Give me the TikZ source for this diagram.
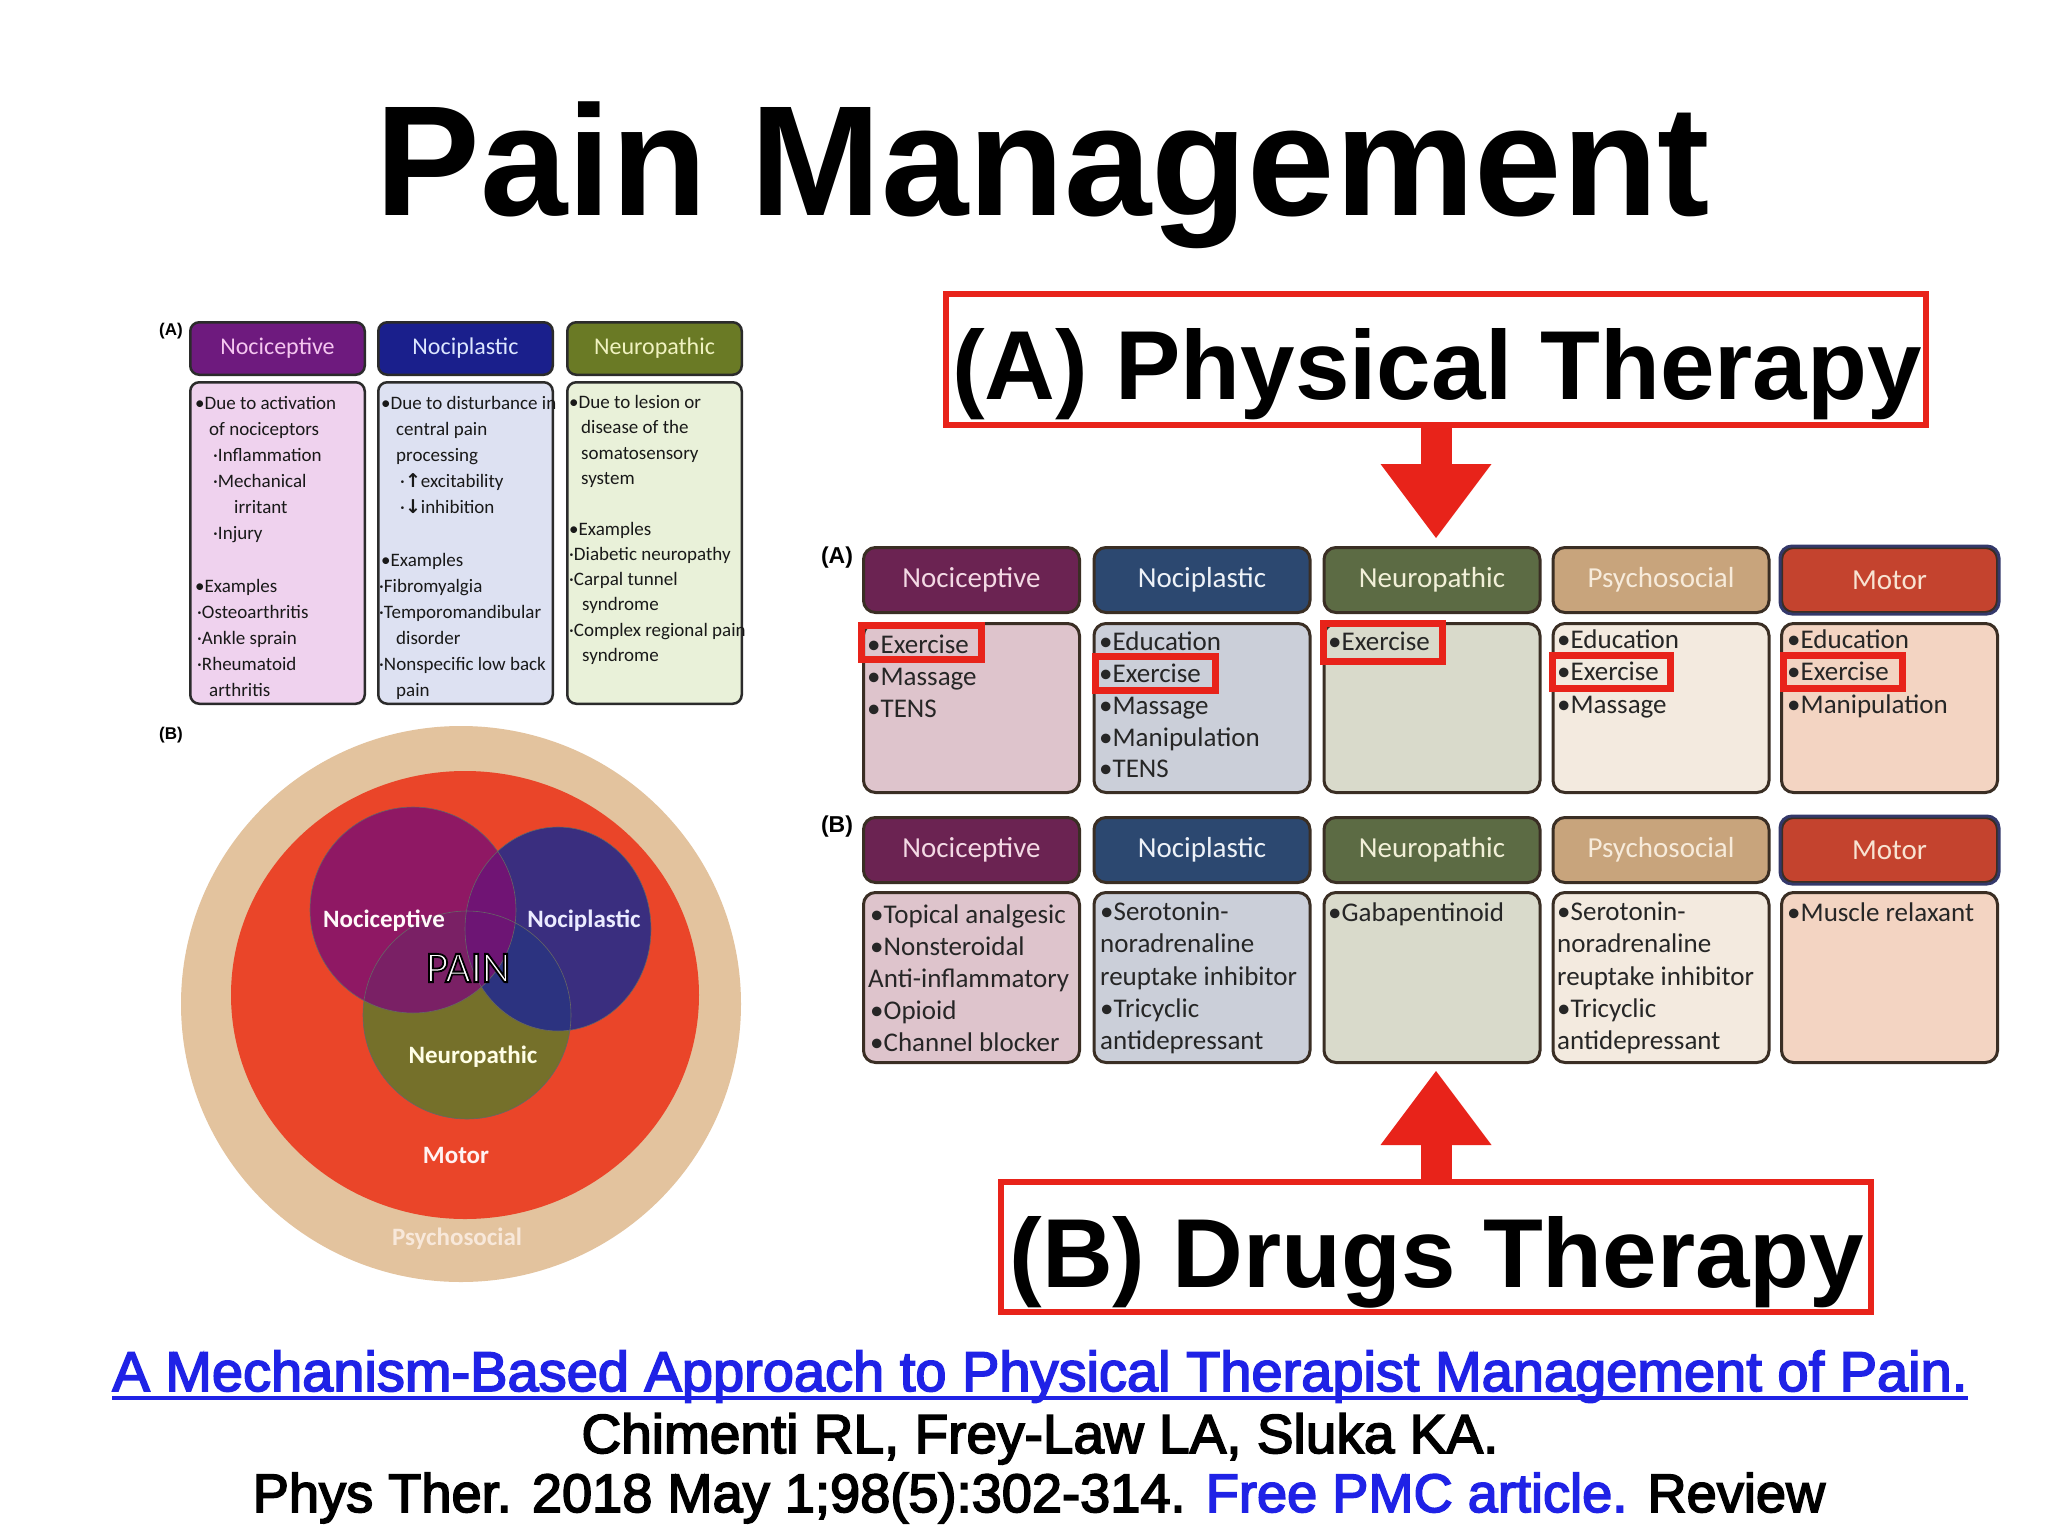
\documentclass[tikz,border=0pt]{standalone}
\usepackage{fontspec}
\setmainfont{Liberation Sans}
\newfontfamily\reff[FakeBold=3]{Liberation Sans}
\newfontfamily\figf{Carlito}
\newfontfamily\dvs{DejaVu Sans}
\usetikzlibrary{arrows.meta}
\definecolor{lh1}{HTML}{6E1A7E}\definecolor{lh2}{HTML}{1A1F8C}\definecolor{lh3}{HTML}{6A7A25}
\definecolor{lht1}{HTML}{F5C6F0}\definecolor{lht2}{HTML}{DCE6FF}\definecolor{lht3}{HTML}{F0F2C0}
\definecolor{lb1}{HTML}{EFD2EE}\definecolor{lb2}{HTML}{DDE1F2}\definecolor{lb3}{HTML}{E9F1D9}
\definecolor{lbord}{HTML}{2B2B2B}
\definecolor{rh1}{HTML}{6B2352}\definecolor{rh2}{HTML}{2C4870}\definecolor{rh3}{HTML}{5C6B44}\definecolor{rh4}{HTML}{C8A47C}\definecolor{rh5}{HTML}{C4432E}
\definecolor{rt1}{HTML}{F3D9E4}\definecolor{rt2}{HTML}{EEF2F8}\definecolor{rt3}{HTML}{F2F0D8}\definecolor{rt4}{HTML}{F7EBDB}\definecolor{rt5}{HTML}{F8E3D2}
\definecolor{rb1}{HTML}{DEC4CC}\definecolor{rb2}{HTML}{CBCFD9}\definecolor{rb3}{HTML}{D9DACB}\definecolor{rb4}{HTML}{F3EADF}\definecolor{rb5}{HTML}{F3D4C2}
\definecolor{rbord}{HTML}{3A2E24}\definecolor{mbord}{HTML}{33386A}
\definecolor{ctan}{HTML}{E3C39E}\definecolor{cred}{HTML}{EA4529}\definecolor{cpur}{HTML}{7C0F72}\definecolor{cblu}{HTML}{222B8C}\definecolor{coli}{HTML}{75702A}
\definecolor{hlred}{HTML}{E8231A}\definecolor{linkblue}{HTML}{1F22E6}\definecolor{psy}{HTML}{F8E8DA}
\begin{document}
\begin{tikzpicture}[x=1pt,y=-1pt,
 lhead/.style={draw=lbord, line width=2.5pt, rounded corners=9pt, minimum width=174.5pt, minimum height=52.5pt, inner sep=0pt, font=\figf\fontsize{24}{24}\selectfont},
 lbody/.style={draw=lbord, line width=2.5pt, rounded corners=9pt, minimum width=174.5pt, minimum height=321.5pt, inner sep=0pt},
 ltxt/.style={anchor=base west, inner sep=0pt, font=\figf\fontsize{19}{19}\selectfont, text=black!90},
 rhead/.style={draw=rbord, line width=3pt, rounded corners=12pt, minimum width=216pt, minimum height=65pt, inner sep=0pt, font=\figf\fontsize{29}{29}\selectfont},
 rbody/.style={draw=rbord, line width=3pt, rounded corners=12pt, minimum width=216pt, minimum height=169pt, inner sep=0pt},
 rtxt/.style={anchor=base west, inner sep=0pt, font=\figf\fontsize{27}{27}\selectfont, text=black!85},
 hl/.style={draw=hlred, line width=7.5pt},
 plab/.style={inner sep=0pt, font=\bfseries\fontsize{17}{17}\selectfont},
 rlab/.style={inner sep=0pt, font=\bfseries\fontsize{23}{23}\selectfont},
 clab/.style={inner sep=0pt, font=\figf\bfseries\fontsize{25}{25}\selectfont},
 bigbox/.style={draw=hlred, line width=6pt, inner sep=0pt},
 bigtxt/.style={anchor=base, inner sep=0pt, font=\bfseries\fontsize{98}{98}\selectfont},
 redarrow/.style={draw=hlred, line width=31pt, -{Triangle[width=111pt,length=74pt,line width=0pt]}},
 reftxt/.style={anchor=base, inner sep=0pt}
]
\useasboundingbox[fill=white] (0,0) rectangle (2048,1536);

% Title
\node[anchor=base, inner sep=0pt, font=\bfseries\fontsize{157}{157}\selectfont] (title) at (1043,215) {Pain Management};

% ---------- left panel (A)
\node[plab] (lA) at (171,331) {(A)};
\node[lhead, fill=lh1, text=lht1] (lh1) at (277.5,348.5) {Nociceptive};
\node[lhead, fill=lh2, text=lht2] (lh2) at (465.5,348.5) {Nociplastic};
\node[lhead, fill=lh3, text=lht3] (lh3) at (654.5,348.5) {Neuropathic};
\node[lbody, fill=lb1] (lb1) at (277.5,543) {};
\node[lbody, fill=lb2] (lb2) at (465.5,543) {};
\node[lbody, fill=lb3] (lb3) at (654.5,543) {};

\node[ltxt] (a1) at (195,409) {•Due to activation};
\node[ltxt] (a2) at (209,435) {of nociceptors};
\node[ltxt] (a3) at (213,461) {·Inflammation};
\node[ltxt] (a4) at (213,487) {·Mechanical};
\node[ltxt] (a5) at (234,513) {irritant};
\node[ltxt] (a6) at (213,539) {·Injury};
\node[ltxt] (a7) at (195,592) {•Examples};
\node[ltxt] (a8) at (197,618) {·Osteoarthritis};
\node[ltxt] (a9) at (197,644) {·Ankle sprain};
\node[ltxt] (a10) at (197,670) {·Rheumatoid};
\node[ltxt] (a11) at (209,696) {arthritis};

\node[ltxt] (b1) at (381,409) {•Due to disturbance in};
\node[ltxt] (b2) at (396,435) {central pain};
\node[ltxt] (b3) at (396,461) {processing};
\node[ltxt] (b4) at (400,487) {·{\dvs\bfseries ↑}excitability};
\node[ltxt] (b5) at (400,513) {·{\dvs\bfseries ↓}inhibition};
\node[ltxt] (b6) at (381,566) {•Examples};
\node[ltxt] (b7) at (379,592) {·Fibromyalgia};
\node[ltxt] (b8) at (379,618) {·Temporomandibular};
\node[ltxt] (b9) at (396,644) {disorder};
\node[ltxt] (b10) at (379,670) {·Nonspecific low back};
\node[ltxt] (b11) at (396,696) {pain};

\node[ltxt] (c1) at (569,408) {•Due to lesion or};
\node[ltxt] (c2) at (581,433) {disease of the};
\node[ltxt] (c3) at (581,459) {somatosensory};
\node[ltxt] (c4) at (581,484) {system};
\node[ltxt] (c5) at (569,535) {•Examples};
\node[ltxt] (c6) at (569,560) {·Diabetic neuropathy};
\node[ltxt] (c7) at (569,585) {·Carpal tunnel};
\node[ltxt] (c8) at (582,610) {syndrome};
\node[ltxt] (c9) at (569,636) {·Complex regional pain};
\node[ltxt] (c10) at (582,661) {syndrome};

% ---------- left panel (B)
\node[plab] (lB) at (171,735) {(B)};
\fill[ctan] (461,1004) ellipse[x radius=280, y radius=278];
\fill[cred] (465,995) ellipse[x radius=234, y radius=224];
\fill[coli] (467,1015) circle[radius=104];
\fill[cblu, fill opacity=0.88] (558,929) ellipse[x radius=93, y radius=102];
\fill[cpur, fill opacity=0.82] (413,910) circle[radius=103];
\draw[black!60, line width=0.6pt] (467,1015) circle[radius=104] (558,929) ellipse[x radius=93, y radius=102] (413,910) circle[radius=103];
\node[clab, text=white!90!pink] (cn1) at (384,921) {Nociceptive};
\node[clab, text=white!92!blue] (cn2) at (584,921) {Nociplastic};
\node[inner sep=0pt, font=\figf\fontsize{44}{44}\selectfont, text=white] (pain) at (468,968) {\special{pdf:literal direct 2 Tr 1.8 w 0 0 0 RG}PAIN\special{pdf:literal direct 0 Tr}};
\node[clab, text=white!90!yellow] (cn3) at (473,1057) {Neuropathic};
\node[clab, text=white!95!red] (cn4) at (456,1155) {Motor};
\node[clab, text=psy] (cn5) at (457,1239) {Psychosocial};

% ---------- right: physical therapy box
\node[bigbox, minimum width=980pt, minimum height=131pt] (pt) at (1436,359.5) {};
\node[bigtxt] (ptt) at (1437,399) {(A) Physical Therapy};
\coordinate (ta) at (1436,538);
\draw[redarrow] (pt.south) -- (ta);

% ---------- right table
\node[rlab] (rA) at (837,558) {(A)};
\node[rlab] (rB) at (837,827) {(B)};
\foreach \c/\x/\h in {1/971.5/Nociceptive,2/1202/Nociplastic,3/1432/Neuropathic,4/1661/Psychosocial,5/1889.5/Motor}{
  \node[rhead, fill=rh\c, text=rt\c] (ha\c) at (\x,580) {\h};
  \node[rbody, fill=rb\c] (ba\c) at (\x,708) {};
  \node[rhead, fill=rh\c, text=rt\c] (hb\c) at (\x,850) {\h};
  \node[rbody, fill=rb\c, minimum height=170pt] (bb\c) at (\x,977.5) {};
}
\draw[mbord, line width=3pt, rounded corners=12pt] (ha5.south west) rectangle (ha5.north east);
\draw[mbord, line width=3pt, rounded corners=12pt] (hb5.south west) rectangle (hb5.north east);

% row A texts
\node[rtxt] (ta11) at (867,653) {•Exercise};
\node[rtxt] (ta12) at (867,685) {•Massage};
\node[rtxt] (ta13) at (867,717) {•TENS};
\node[rtxt] (ta21) at (1099,650) {•Education};
\node[rtxt] (ta22) at (1099,682) {•Exercise};
\node[rtxt] (ta23) at (1099,714) {•Massage};
\node[rtxt] (ta24) at (1099,746) {•Manipulation};
\node[rtxt] (ta25) at (1099,777) {•TENS};
\node[rtxt] (ta31) at (1328,650) {•Exercise};
\node[rtxt] (ta41) at (1557,648) {•Education};
\node[rtxt] (ta42) at (1557,680) {•Exercise};
\node[rtxt] (ta43) at (1557,713) {•Massage};
\node[rtxt] (ta51) at (1787,648) {•Education};
\node[rtxt] (ta52) at (1787,680) {•Exercise};
\node[rtxt] (ta53) at (1787,713) {•Manipulation};

% highlight boxes
\draw[hl] (861.5,625.5) rectangle (981.5,659.5);
\draw[hl] (1095.5,656.5) rectangle (1215.5,690.5);
\draw[hl] (1323.5,623.5) rectangle (1442.5,661.5);
\draw[hl] (1552.5,655.5) rectangle (1670.5,688.5);
\draw[hl] (1783.5,655.5) rectangle (1902.5,688.5);

% row B texts
\node[rtxt] (tb11) at (870,923) {•Topical analgesic};
\node[rtxt] (tb12) at (870,955) {•Nonsteroidal};
\node[rtxt] (tb13) at (868,987) {Anti-inflammatory};
\node[rtxt] (tb14) at (870,1019) {•Opioid};
\node[rtxt] (tb15) at (870,1051) {•Channel blocker};
\node[rtxt] (tb21) at (1100,920) {•Serotonin-};
\node[rtxt] (tb22) at (1100,952) {noradrenaline};
\node[rtxt] (tb23) at (1100,985) {reuptake inhibitor};
\node[rtxt] (tb24) at (1100,1017) {•Tricyclic};
\node[rtxt] (tb25) at (1100,1049) {antidepressant};
\node[rtxt] (tb31) at (1328,921) {•Gabapentinoid};
\node[rtxt] (tb41) at (1557,920) {•Serotonin-};
\node[rtxt] (tb42) at (1557,952) {noradrenaline};
\node[rtxt] (tb43) at (1557,985) {reuptake inhibitor};
\node[rtxt] (tb44) at (1557,1017) {•Tricyclic};
\node[rtxt] (tb45) at (1557,1049) {antidepressant};
\node[rtxt] (tb51) at (1787,921) {•Muscle relaxant};

% ---------- drugs therapy box
\node[bigbox, minimum width=870pt, minimum height=130pt] (pd) at (1436,1247) {};
\node[bigtxt] (pdt) at (1437,1287) {(B) Drugs Therapy};
\coordinate (tb) at (1436,1071);
\draw[redarrow] (pd.north) -- (tb);

% ---------- reference
\node[reftxt, text=linkblue, font=\reff\fontsize{56}{56}\selectfont] (ref1) at (1040,1391) {A Mechanism-Based Approach to Physical Therapist Management of Pain.};
\draw[linkblue, line width=3.5pt] ([yshift=-7pt]ref1.base west) -- ([yshift=-7pt]ref1.base east);
\node[reftxt, font=\reff\fontsize{55}{55}\selectfont] (ref2) at (1040,1453) {Chimenti RL, Frey-Law LA, Sluka KA.};
\node[reftxt, font=\reff\fontsize{54.2}{55}\selectfont] (ref3) at (1039,1512) {Phys Ther. 2018 May 1;98(5):302-314. \textcolor{linkblue}{Free PMC article.} Review};
\end{tikzpicture}
\end{document}
